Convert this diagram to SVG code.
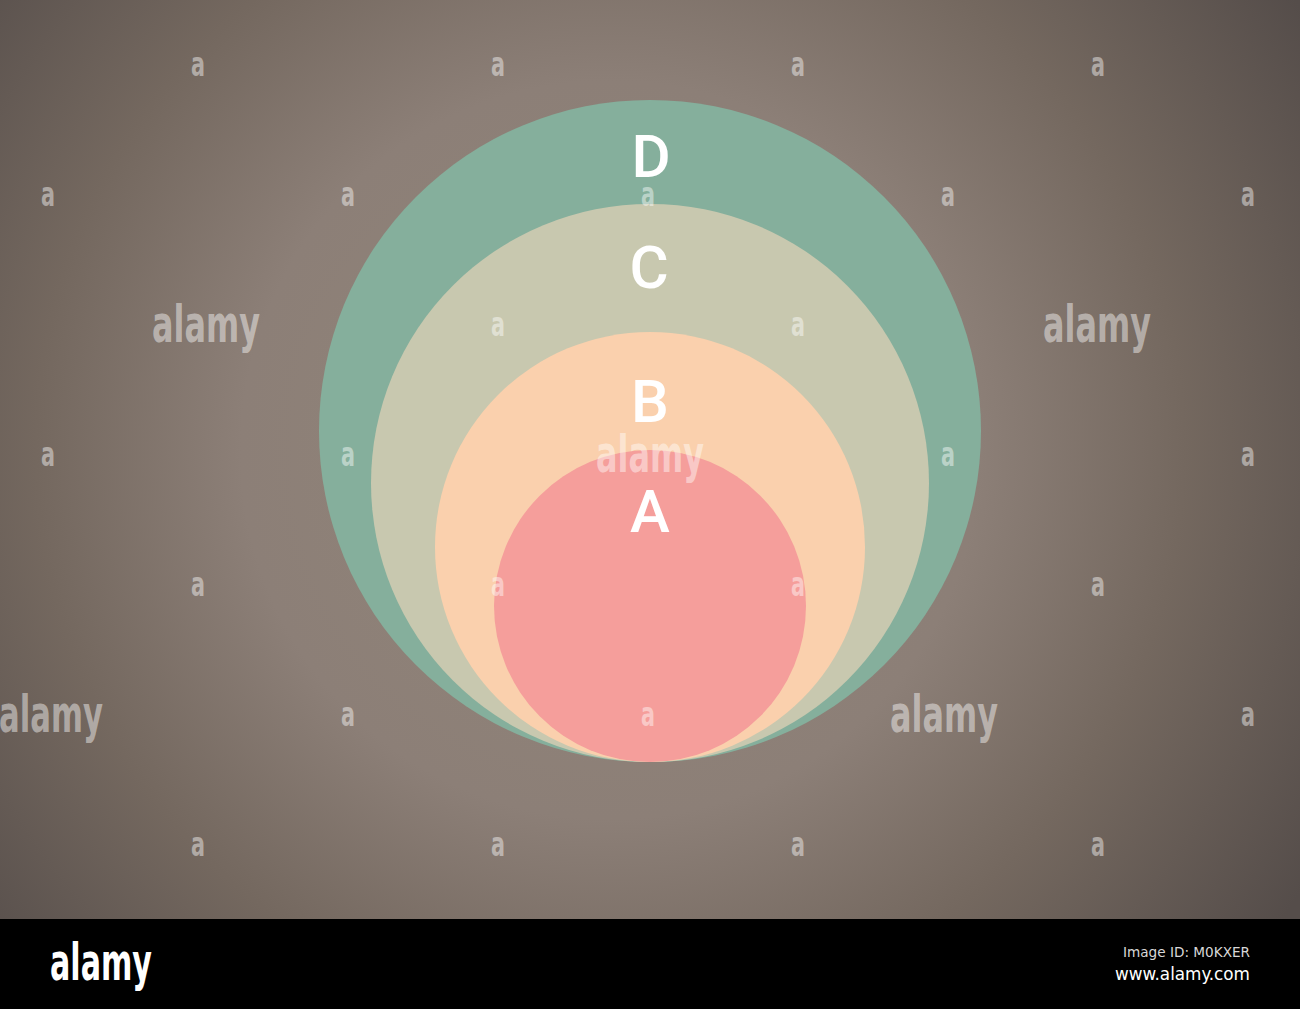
<svg xmlns="http://www.w3.org/2000/svg" width="1300" height="1009" viewBox="0 0 1300 1009">
<defs>
<radialGradient id="bg" cx="610" cy="450" r="820" gradientUnits="userSpaceOnUse">
<stop offset="0" stop-color="#938679"/>
<stop offset="0.45" stop-color="#8c7f77"/>
<stop offset="0.7" stop-color="#74685f"/>
<stop offset="1" stop-color="#554d4a"/>
</radialGradient>
<style>
.lbl{font-family:Roboto,"Liberation Sans",sans-serif;font-weight:500;font-size:60px;fill:#ffffff;text-anchor:middle}
.wm{font-family:"Liberation Sans Narrow","DejaVu Sans Condensed","Liberation Sans",sans-serif;font-weight:bold;fill:#ffffff;fill-opacity:0.45;text-anchor:middle}
.wa{font-size:34px}
.wb{font-size:52px}
</style>
</defs>
<rect x="0" y="0" width="1300" height="919" fill="url(#bg)"/>
<rect x="0" y="919" width="1300" height="90" fill="#000000"/>
<g id="node-D"><circle cx="650" cy="431" r="331" fill="#85af9c"/></g>
<g id="node-C"><circle cx="650" cy="483" r="279" fill="#c8c8af"/></g>
<g id="node-B"><circle cx="650" cy="547" r="215" fill="#fad0ad"/></g>
<g id="node-A"><circle cx="650" cy="606" r="156" fill="#f59e9b"/></g>
<g id="labels">
<text class="lbl" x="651" y="177">D</text>
<text class="lbl" x="649" y="288">C</text>
<text class="lbl" x="650" y="422">B</text>
<text class="lbl" x="650" y="532">A</text>
</g>
<g id="connectors"/>
<g id="watermarks">
<text class="wm wa" x="198" y="76" textLength="14" lengthAdjust="spacingAndGlyphs">a</text>
<text class="wm wa" x="498" y="76" textLength="14" lengthAdjust="spacingAndGlyphs">a</text>
<text class="wm wa" x="798" y="76" textLength="14" lengthAdjust="spacingAndGlyphs">a</text>
<text class="wm wa" x="1098" y="76" textLength="14" lengthAdjust="spacingAndGlyphs">a</text>
<text class="wm wa" x="48" y="206" textLength="14" lengthAdjust="spacingAndGlyphs">a</text>
<text class="wm wa" x="348" y="206" textLength="14" lengthAdjust="spacingAndGlyphs">a</text>
<text class="wm wa" x="648" y="206" textLength="14" lengthAdjust="spacingAndGlyphs">a</text>
<text class="wm wa" x="948" y="206" textLength="14" lengthAdjust="spacingAndGlyphs">a</text>
<text class="wm wa" x="1248" y="206" textLength="14" lengthAdjust="spacingAndGlyphs">a</text>
<text class="wm wb" x="206" y="342" textLength="108" lengthAdjust="spacingAndGlyphs">alamy</text>
<text class="wm wa" x="498" y="336" textLength="14" lengthAdjust="spacingAndGlyphs">a</text>
<text class="wm wa" x="798" y="336" textLength="14" lengthAdjust="spacingAndGlyphs">a</text>
<text class="wm wb" x="1097" y="342" textLength="108" lengthAdjust="spacingAndGlyphs">alamy</text>
<text class="wm wa" x="48" y="466" textLength="14" lengthAdjust="spacingAndGlyphs">a</text>
<text class="wm wa" x="348" y="466" textLength="14" lengthAdjust="spacingAndGlyphs">a</text>
<text class="wm wb" x="650" y="472" textLength="108" lengthAdjust="spacingAndGlyphs">alamy</text>
<text class="wm wa" x="948" y="466" textLength="14" lengthAdjust="spacingAndGlyphs">a</text>
<text class="wm wa" x="1248" y="466" textLength="14" lengthAdjust="spacingAndGlyphs">a</text>
<text class="wm wa" x="198" y="596" textLength="14" lengthAdjust="spacingAndGlyphs">a</text>
<text class="wm wa" x="498" y="596" textLength="14" lengthAdjust="spacingAndGlyphs">a</text>
<text class="wm wa" x="798" y="596" textLength="14" lengthAdjust="spacingAndGlyphs">a</text>
<text class="wm wa" x="1098" y="596" textLength="14" lengthAdjust="spacingAndGlyphs">a</text>
<text class="wm wb" x="51" y="732" textLength="104" lengthAdjust="spacingAndGlyphs">alamy</text>
<text class="wm wa" x="348" y="726" textLength="14" lengthAdjust="spacingAndGlyphs">a</text>
<text class="wm wa" x="648" y="726" textLength="14" lengthAdjust="spacingAndGlyphs">a</text>
<text class="wm wb" x="944" y="732" textLength="108" lengthAdjust="spacingAndGlyphs">alamy</text>
<text class="wm wa" x="1248" y="726" textLength="14" lengthAdjust="spacingAndGlyphs">a</text>
<text class="wm wa" x="198" y="856" textLength="14" lengthAdjust="spacingAndGlyphs">a</text>
<text class="wm wa" x="498" y="856" textLength="14" lengthAdjust="spacingAndGlyphs">a</text>
<text class="wm wa" x="798" y="856" textLength="14" lengthAdjust="spacingAndGlyphs">a</text>
<text class="wm wa" x="1098" y="856" textLength="14" lengthAdjust="spacingAndGlyphs">a</text>
</g>
<g id="footer">
<text x="101" y="980" font-family="Liberation Sans Narrow,DejaVu Sans Condensed,Liberation Sans,sans-serif" font-weight="bold" font-size="52" fill="#ffffff" text-anchor="middle" textLength="102" lengthAdjust="spacingAndGlyphs">alamy</text>
<text x="1250" y="957" font-family="Liberation Sans Narrow,DejaVu Sans Condensed,Liberation Sans,sans-serif" font-size="14" fill="#d8d8d8" text-anchor="end" textLength="127" lengthAdjust="spacingAndGlyphs">Image ID: M0KXER</text>
<text x="1250" y="980" font-family="Liberation Sans Narrow,DejaVu Sans Condensed,Liberation Sans,sans-serif" font-size="18" fill="#ffffff" text-anchor="end" textLength="135" lengthAdjust="spacingAndGlyphs">www.alamy.com</text>
</g>
</svg>
